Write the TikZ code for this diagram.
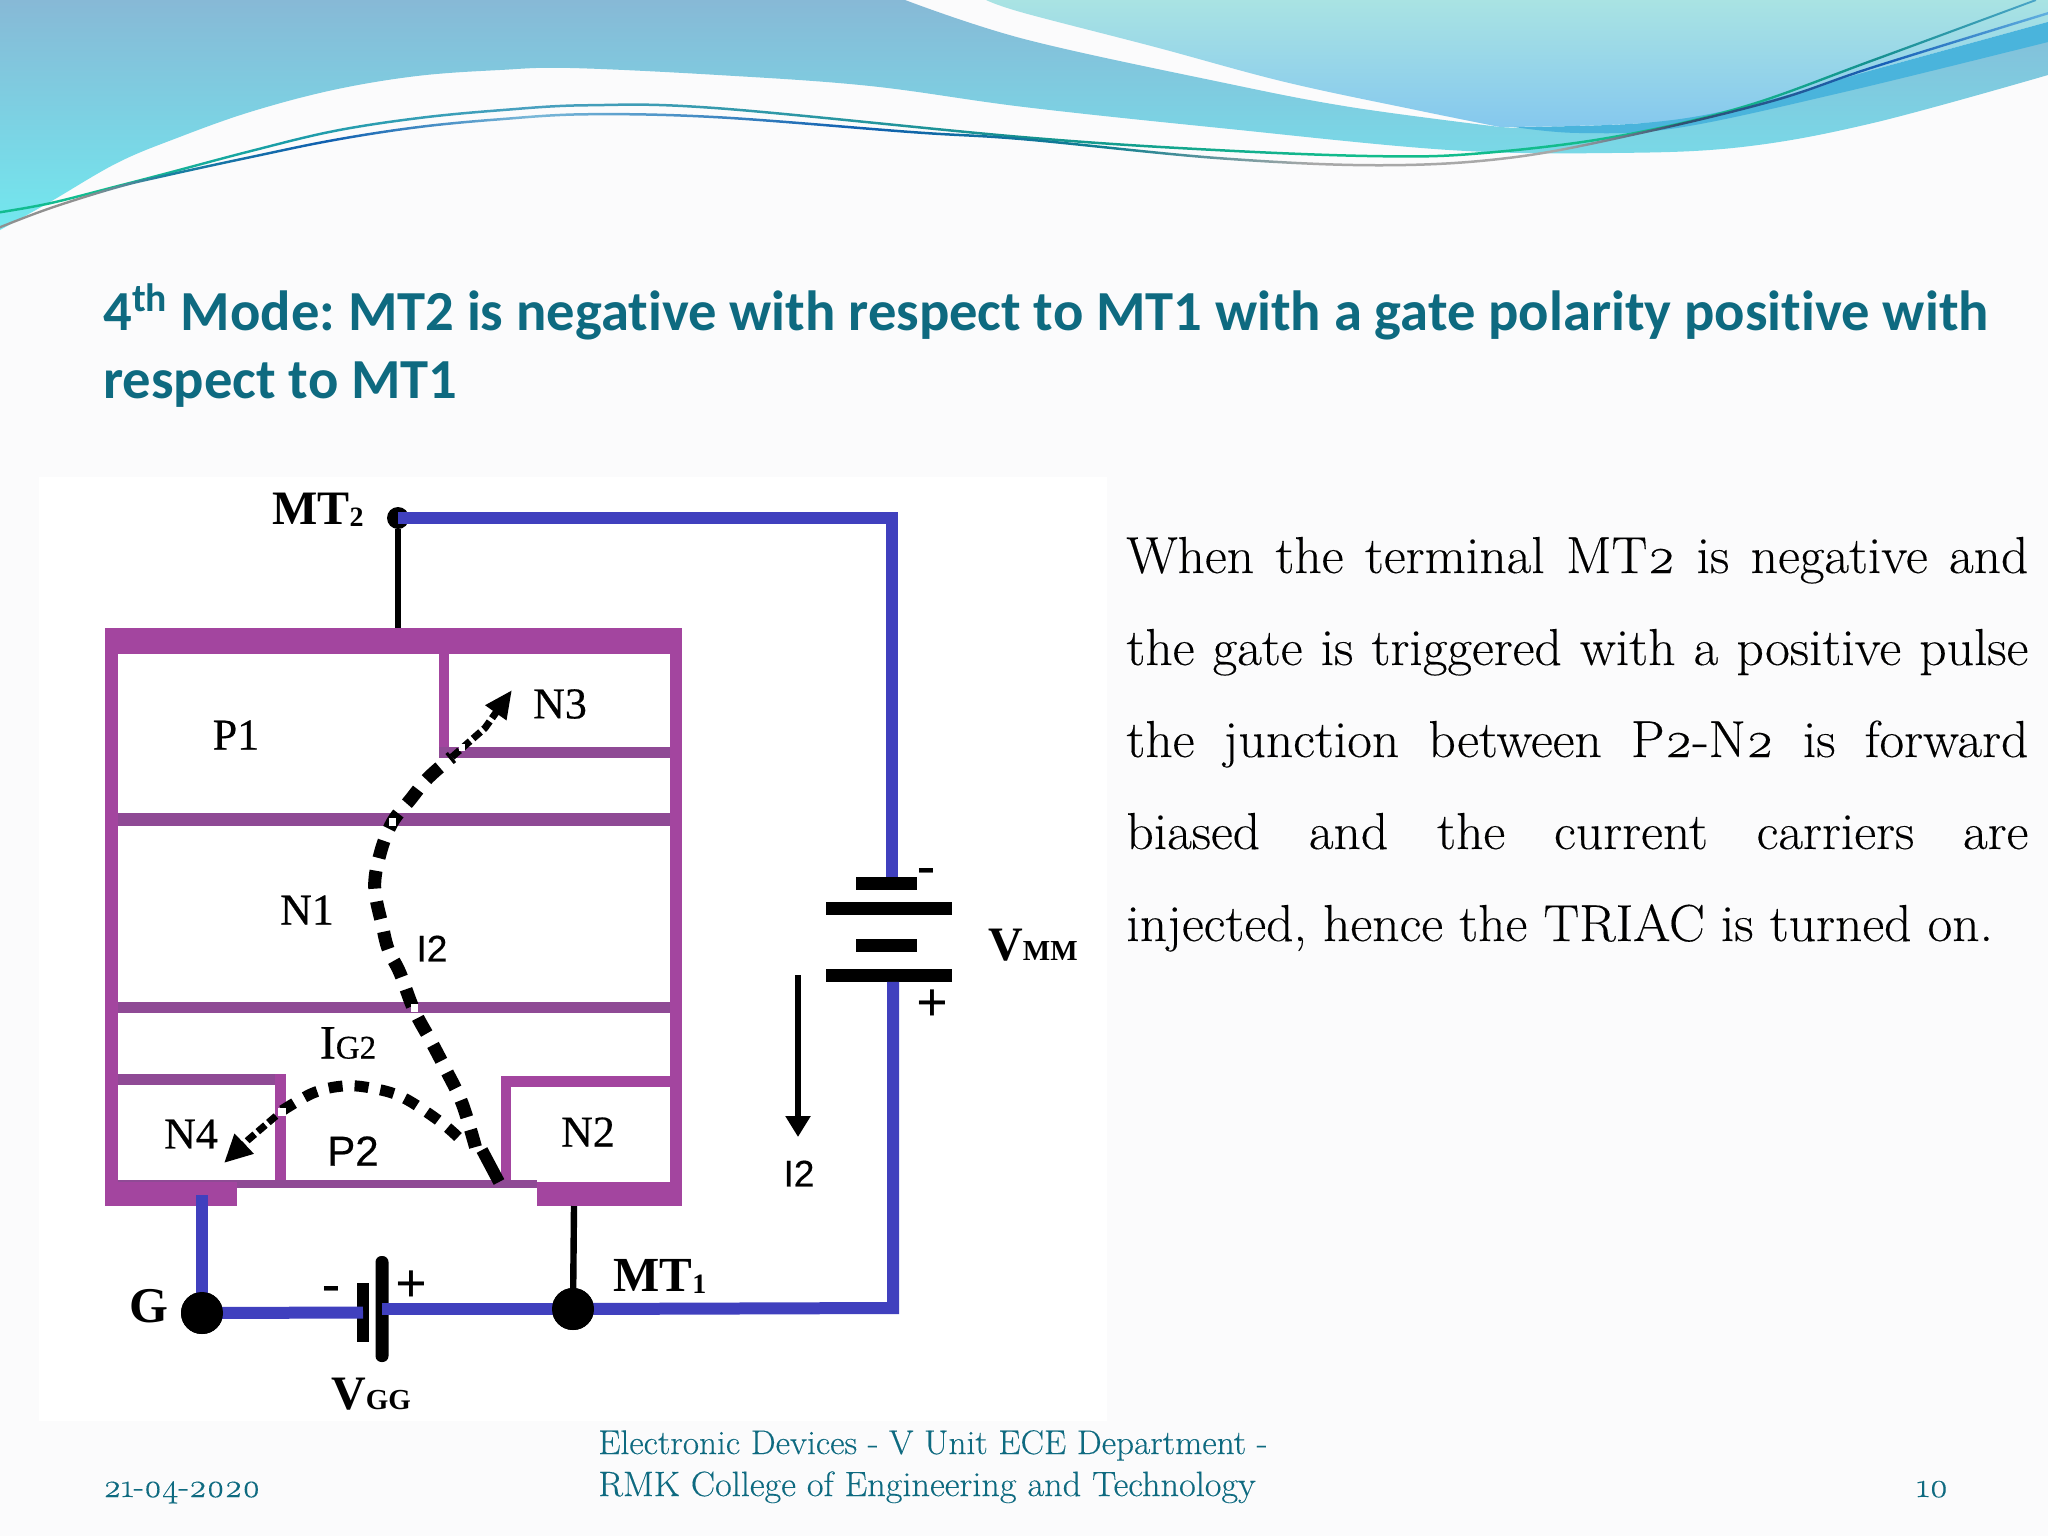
\documentclass[tikz,border=0pt]{standalone}
\usepackage{fontspec}
\setmainfont{Liberation Serif}
\setsansfont{Liberation Sans}[FakeBold=0.5]
\newfontfamily\titlefont{Carlito}[Ligatures=NoCommon]
\newfontfamily\labfont{Liberation Serif}[FakeBold=0.5]
\newfontfamily\plainsans{Liberation Sans}[FakeBold=0.4]
\newfontfamily\bodyfont{Latin Modern Roman}[Numbers=OldStyle,FakeStretch=1.03,FakeBold=0.25]
\usetikzlibrary{arrows.meta}
\definecolor{slidebg}{HTML}{FBFBFC}
\definecolor{teal}{HTML}{0E6A80}
\definecolor{frameP}{HTML}{A3459F}
\definecolor{barP}{HTML}{8F4A95}
\definecolor{wireB}{HTML}{4040BE}
\definecolor{bandtop}{HTML}{87B9D6}
\definecolor{bandbot}{HTML}{72E8EF}
\definecolor{righttop}{HTML}{A9E3E3}
\definecolor{rightbot}{HTML}{85C8EE}
\definecolor{swoosh}{HTML}{4AB4DC}
\definecolor{la}{HTML}{12BC90}
\definecolor{lb}{HTML}{1A9CA8}
\definecolor{lc}{HTML}{4AA0C0}
\definecolor{ld}{HTML}{14908F}
\definecolor{le}{HTML}{12BC8C}
\definecolor{lf}{HTML}{4AA4C8}
\definecolor{ma}{HTML}{909090}
\definecolor{mb}{HTML}{1A80A0}
\definecolor{mc}{HTML}{1060B0}
\definecolor{md}{HTML}{7AB8D8}
\definecolor{me}{HTML}{108090}
\definecolor{mf}{HTML}{A8A8A8}
\definecolor{mg}{HTML}{305070}
\definecolor{mh}{HTML}{1860B8}
\definecolor{mi}{HTML}{60B0E0}
\pgfdeclarehorizontalshading{lineA}{100bp}{color(0bp)=(la);color(25bp)=(la);color(28bp)=(la);color(32bp)=(lb);color(38bp)=(lc);color(50bp)=(ld);color(58bp)=(le);color(67bp)=(le);color(71bp)=(ld);color(75bp)=(lf);color(100bp)=(lf)}
\pgfdeclarehorizontalshading{lineB}{100bp}{color(0bp)=(ma);color(25bp)=(ma);color(27bp)=(ma);color(29bp)=(mb);color(33bp)=(mc);color(38bp)=(md);color(46bp)=(mc);color(52bp)=(me);color(57bp)=(mf);color(63bp)=(mf);color(66bp)=(mg);color(71bp)=(mh);color(75bp)=(mi);color(100bp)=(mi)}
\tikzset{
  x=0.5pt,y=-0.5pt,
  purpleblock/.style={fill=frameP},
  purplebar/.style={fill=barP},
  wire/.style={draw=wireB,line width=6pt,line cap=butt,line join=miter},
  leadline/.style={draw=black,line width=3.2pt},
  termdot/.style={circle,fill=black,inner sep=0pt,minimum size=#1},
  plate/.style={fill=black,inner sep=0pt,rectangle},
  lab/.style={text=black,inner sep=0pt,font=\labfont\fontsize{22}{24}\selectfont},
  sanslab/.style={text=black,inner sep=0pt,font=\plainsans\fontsize{18.5}{20}\selectfont},
  termlab/.style={text=black,inner sep=0pt,font=\bfseries\fontsize{24}{26}\selectfont},
  titletext/.style={text=teal,inner sep=0pt,anchor=base west,font=\titlefont\bfseries\frenchspacing\fontsize{28.3}{30}\selectfont},
  bodytext/.style={text=black,inner sep=0pt,anchor=base west,font=\bodyfont\fontsize{26}{30}\selectfont},
  foottext/.style={text=teal,inner sep=0pt,anchor=base west,font=\bodyfont\fontsize{17.4}{20}\selectfont},
  carrier/.style={draw=black,line width=6.5pt,dash pattern=on 9pt off 6.5pt},
  speck/.style={fill=white},
}
\begin{document}
\begin{tikzpicture}
\useasboundingbox (0,0) rectangle (2048,1536);
\fill[slidebg] (0,0) rectangle (2048,1536);
% header artwork
\begin{scope}
\clip (0,0) rectangle (2048,1536);
\path[top color=bandtop,bottom color=bandbot] (0,0) -- (905,0)
  -- plot[smooth,tension=.6] coordinates {(905,0) (1024,39) (1220,82) (1350,107) (1500,127)}
  -- plot[smooth,tension=.6] coordinates {(1500,127) (1644,123) (1873,70) (2048,22)}
  -- (2048,75)
  -- plot[smooth,tension=.6] coordinates {(2048,75) (1873,123) (1742,147) (1612,153) (1449,150) (1220,128) (1024,107) (870,86) (718,75) (570,68) (500,70) (417,76) (333,90) (250,112) (177,138) (117,163) (50,202) (0,230)}
  -- cycle;
\path[top color=righttop,bottom color=rightbot] (986,0) -- (2048,0) -- (2048,22)
  -- plot[smooth,tension=.6] coordinates {(2048,22) (1873,70) (1742,107) (1644,123) (1500,127)}
  -- plot[smooth,tension=.6] coordinates {(1500,127) (1416,110) (1285,82) (1155,47) (1024,13) (986,0)}
  -- cycle;
\fill[swoosh] plot[smooth,tension=.6] coordinates {(1514,127) (1644,123) (1742,107) (1873,70) (2048,22)}
  -- (2048,42)
  -- plot[smooth,tension=.6] coordinates {(2048,42) (1840,93) (1677,128) (1579,133) (1514,127)} -- cycle;
\path[shading=lineA] plot[smooth,tension=.6] coordinates {(0,211) (50,202) (117,185) (167,172) (250,150) (333,130) (417,117) (500,109) (588,104) (718,107) (1024,136) (1220,149) (1383,155) (1481,152) (1612,136) (1742,106) (1873,59) (2036,-1)}
  -- plot[smooth,tension=.6] coordinates {(2036,1) (1873,61.5) (1742,108.5) (1612,138.5) (1481,154.5) (1383,157.5) (1220,151.5) (1024,138.5) (718,109.5) (588,106.5) (500,111.5) (417,119.5) (333,132.5) (250,152.5) (167,174.5) (117,187.5) (50,204.5) (0,213.5)} -- cycle;
\path[shading=lineB] plot[smooth,tension=.6] coordinates {(0,226) (50,207) (117,186) (167,174) (250,156) (333,139) (417,126) (500,118) (588,113) (718,116) (914,131) (1024,138) (1220,157) (1383,164) (1514,156) (1644,131) (1775,99) (1873,66) (2048,12)}
  -- plot[smooth,tension=.6] coordinates {(2048,14.5) (1873,68.5) (1775,101.5) (1644,133.5) (1514,158.5) (1383,166.5) (1220,159.5) (1024,140.5) (914,133.5) (718,118.5) (588,115.5) (500,120.5) (417,128.5) (333,141.5) (250,158.5) (167,176.5) (117,188.5) (50,209.5) (0,228.5)} -- cycle;
\end{scope}
% title
\node[titletext] (title1) at (103,330) {4\textsuperscript{th} Mode: MT2 is negative with respect to MT1 with a gate polarity positive with};
\node[titletext] (title2) at (103,398) {respect to MT1};
% image panel
\fill[white] (39,477) rectangle (1107,1421);
% device body
\fill[purpleblock] (105,628) rectangle (682,654);
\fill[purpleblock] (105,628) rectangle (118,1206);
\fill[purpleblock] (670,628) rectangle (682,1206);
\fill[purpleblock] (439,654) rectangle (449,758);
\fill[purplebar] (439,747) rectangle (670,758);
\fill[purplebar] (118,813) rectangle (670,826);
\fill[purplebar] (118,1002) rectangle (670,1013);
\fill[purplebar] (118,1074) rectangle (286,1085);
\fill[purpleblock] (275,1074) rectangle (286,1188);
\fill[purpleblock] (501,1076) rectangle (682,1087);
\fill[purpleblock] (501,1076) rectangle (511,1188);
\fill[purplebar] (118,1180) rectangle (537,1188);
\fill[purpleblock] (105,1182) rectangle (237,1206);
\fill[purpleblock] (537,1182) rectangle (682,1206);
% terminals
\node[termdot=11pt] (mttwo) at (398,518) {};
\node[termdot=21pt] (gdot) at (202,1313) {};
\node[termdot=21pt] (mtone) at (573,1309) {};
\coordinate (topc) at (398,628);
\coordinate (gcontact) at (202,1195);
\coordinate (mtonecontact) at (574,1206);
\coordinate (corner) at (892,518);
\coordinate (cornerb) at (893,1308);
% batteries
\node[plate,minimum width=30.5pt,minimum height=6.5pt] (bm1) at (886,883.5) {};
\node[plate,minimum width=63pt,minimum height=6.5pt] (bm2) at (889,908.5) {};
\node[plate,minimum width=30.5pt,minimum height=6.5pt] (bm3) at (886,945.5) {};
\node[plate,minimum width=63pt,minimum height=6.5pt] (bm4) at (889,975) {};
\node[plate,minimum width=6pt,minimum height=29.5pt] (bg1) at (363,1312.5) {};
\node[plate,minimum width=6.5pt,minimum height=53pt,rounded corners=3pt] (bg2) at (382,1309) {};
% wires
\draw[leadline] (mttwo) -- (topc);
\draw[leadline] (mtone.center) -- (mtonecontact);
\draw[wire] (mttwo.center) -- (corner) -- (corner |- bm1.north);
\draw[wire] (cornerb |- bm4.south) -- (cornerb) -- (mtone.center);
\draw[wire] (gcontact) -- (gdot.center);
\draw[wire] (gdot.center) -- (bg1.center);
\draw[wire] (bg2.center |- mtone.center) -- (mtone.center);
\node[termdot=21pt] (gdottop) at (gdot) {};
\node[termdot=21pt] (mtonetop) at (mtone) {};
% carriers
\coordinate (inj) at (499,1182);
\draw[carrier] plot[smooth,tension=.6] coordinates {(475.5,1147) (462,1103) (446,1070) (432,1043) (414,1010) (400,973) (388.5,950) (382.6,927) (374.7,887) (380.6,852) (392.5,822) (410,800) (428,778) (452,757)};
\draw[draw=black,line width=6pt] (inj) -- (482,1150);
\draw[draw=black,line width=3.5pt,dash pattern=on 5pt off 2pt,-{Triangle[length=14pt,width=12pt]}] (452,757) -- (485,728) -- (512,690);
\draw[carrier,line width=5.5pt,dash pattern=on 7pt off 6pt] plot[smooth,tension=.6] coordinates {(458,1137) (438,1120) (402,1097) (371,1088) (343,1086) (313,1093) (280,1112)};
\draw[draw=black,line width=3.5pt,dash pattern=on 5pt off 2pt,-{Triangle[length=14pt,width=13pt]}] (276,1116) -- (248,1140) -- (224,1163);
\fill[speck] (389,818) rectangle (396,826);
\fill[speck] (459,744) rectangle (465,751);
\fill[speck] (278,1108) rectangle (286,1116);
\fill[speck] (411,1004) rectangle (418,1012);
% labels
\node[termlab] (lmttwo) at (318,510) {MT\raisebox{-1pt}{\fontsize{14}{15}\selectfont 2}};
\node[lab] (lp1) at (236,735) {P1};
\node[lab] (ln3) at (560,704) {N3};
\node[lab] (ln1) at (307,910) {N1};
\node[sanslab] (lia) at (432,948.5) {I2};
\node[lab,font=\labfont\fontsize{24}{26}\selectfont] (lig) at (348,1043) {I\fontsize{16.5}{18}\selectfont G2};
\node[lab] (ln4) at (191,1134) {N4};
\node[sanslab,font=\plainsans\fontsize{21}{22}\selectfont] (lp2) at (353,1151) {P2};
\node[lab] (ln2) at (588,1132) {N2};
\node[termlab,font=\bfseries\fontsize{25}{26}\selectfont] (lg) at (149,1306) {G};
\node[termlab,font=\fontsize{24.5}{26}\selectfont\bfseries] (lmtone) at (660,1276) {MT\raisebox{-1pt}{\fontsize{14}{15}\selectfont 1}};
\node[termlab,font=\bfseries\fontsize{27}{28}\selectfont] (lminus) at (331,1294) {-};
\node[termlab,font=\bfseries\fontsize{28}{30}\selectfont] (lplus) at (411,1287) {+};
\node[termlab] (lvgg) at (371,1394) {V\fontsize{14.5}{15}\selectfont GG};
\node[termlab] (lvmm) at (1033,945) {V\fontsize{14.5}{15}\selectfont MM};
\node[termlab,font=\bfseries\fontsize{27}{28}\selectfont] (lbminus) at (926,876) {-};
\node[termlab,font=\bfseries\fontsize{28}{30}\selectfont] (lbplus) at (932,1006) {+};
\coordinate (arrtop) at (798,975);
\coordinate (arrbot) at (798,1137);
\draw[draw=black,line width=3.3pt,-{Triangle[length=10.5pt,width=12pt]}] (arrtop) -- (arrbot);
\node[sanslab] (lib) at (799,1173.5) {I2};
% body text
\node[bodytext] (b1) at (1126,573) {\makebox[451pt][s]{When the terminal MT2 is negative and}};
\node[bodytext] (b2) at (1126,665) {\makebox[451pt][s]{the gate is triggered with a positive pulse}};
\node[bodytext] (b3) at (1126,757) {\makebox[451pt][s]{the junction between P2-N2 is forward}};
\node[bodytext] (b4) at (1126,849) {\makebox[451pt][s]{biased and the current carriers are}};
\node[bodytext] (b5) at (1126,941) {injected, hence the TRIAC is turned on.};
% footer
\node[foottext,font=\bodyfont\fontsize{16.6}{20}\selectfont] (fdate) at (103,1497) {21-04-2020};
\node[foottext,font=\bodyfont\fontsize{17.1}{20}\selectfont] (ff1) at (598,1454) {Electronic Devices - V Unit ECE Department -};
\node[foottext,font=\bodyfont\fontsize{17.6}{20}\selectfont] (ff2) at (598,1496) {RMK College of Engineering and Technology};
\node[foottext] (fnum) at (1916,1497) {10};
\end{tikzpicture}
\end{document}
